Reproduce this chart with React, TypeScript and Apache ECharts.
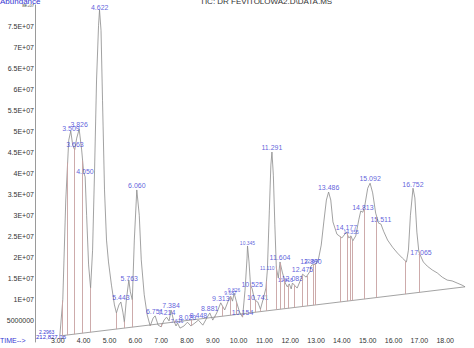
import React, { useEffect, useRef } from "react";
import * as echarts from "echarts";

// Retention time (min) and abundance (millions of counts) of the TIC trace
const traceTime = [
  3.077, 3.192, 3.308, 3.423, 3.5, 3.577, 3.654, 3.731, 3.827, 3.923, 4.0, 4.058, 4.115, 4.192, 4.269, 4.346,
  4.423, 4.5, 4.577, 4.615, 4.673, 4.731, 4.808, 4.885, 4.962, 5.077, 5.192, 5.269, 5.365, 5.442, 5.519, 5.577,
  5.654, 5.75, 5.808, 5.885, 5.962, 6.058, 6.154, 6.231, 6.346, 6.462, 6.577, 6.692, 6.769, 6.885, 7.0, 7.115,
  7.212, 7.308, 7.385, 7.481, 7.577, 7.635, 7.731, 7.885, 8.019, 8.154, 8.308, 8.442, 8.615, 8.769, 8.885, 9.0,
  9.154, 9.308, 9.462, 9.615, 9.692, 9.765, 9.826, 9.92, 10.038, 10.154, 10.25, 10.327, 10.346, 10.404, 10.462,
  10.527, 10.615, 10.742, 10.846, 10.962, 11.058, 11.115, 11.192, 11.25, 11.292, 11.346, 11.404, 11.462, 11.538,
  11.604, 11.692, 11.808, 11.885, 11.962, 12.038, 12.085, 12.269, 12.385, 12.477, 12.615, 12.769, 12.8, 12.847,
  13.0, 13.1, 13.2, 13.3, 13.4, 13.486, 13.57, 13.654, 13.808, 14.0, 14.177, 14.269, 14.354, 14.423, 14.538,
  14.654, 14.731, 14.812, 14.885, 15.0, 15.092, 15.192, 15.308, 15.423, 15.512, 15.615, 15.769, 15.962, 16.154,
  16.346, 16.5, 16.577, 16.654, 16.754, 16.827, 16.904, 16.981, 17.065, 17.154, 17.308, 17.5, 17.692, 17.885,
  18.077, 18.269, 18.462, 18.654, 18.769,
];
const traceAbund = [
  1.4, 10.0, 33.7, 47.9, 50.1, 46.7, 45.6, 48.4, 50.5, 45.6, 40.3, 39.2, 30.1, 18.3, 12.8, 21.8,
  40.8, 62.2, 75.2, 78.8, 74.0, 57.4, 36.1, 24.2, 19.0, 13.5, 8.8, 6.9, 8.8, 9.5, 7.1, 4.7,
  10.0, 14.7, 11.9, 10.0, 24.2, 36.1, 30.1, 19.5, 11.2, 6.4, 3.8, 5.7, 6.2, 4.0, 3.6, 5.2,
  5.9, 5.0, 7.6, 5.2, 3.8, 4.5, 3.3, 3.8, 4.7, 3.8, 4.5, 5.2, 4.0, 5.7, 6.9, 5.2,
  6.9, 9.3, 7.6, 10.0, 10.9, 9.7, 11.6, 9.5, 7.1, 5.9, 12.3, 19.9, 22.8, 19.0, 13.5,
  12.6, 10.0, 9.5, 7.8, 10.4, 12.8, 17.1, 31.3, 42.0, 45.1, 39.6, 27.8, 17.6, 15.2,
  19.0, 16.6, 14.0, 13.1, 13.8, 12.6, 14.0, 12.8, 14.5, 16.1, 15.4, 16.8, 18.0, 18.3,
  18.5, 19.9, 23.0, 28.5, 33.7, 35.6, 33.7, 28.5, 25.6, 24.7, 26.1, 24.7, 25.2, 24.0, 25.2,
  29.0, 31.1, 30.8, 32.3, 36.5, 37.7, 35.4, 30.6, 28.2, 28.0, 26.3, 24.2, 22.5, 21.1,
  19.9, 19.0, 21.8, 30.1, 36.5, 34.2, 26.1, 21.4, 20.2, 19.0, 18.0, 17.1, 16.4, 15.4,
  14.7, 14.5, 14.0, 13.5, 13.1,
];

// Integration baseline end points
const baselineTime = [3.15, 18.77];
const baselineAbund = [1.5, 13.1];

// Peak retention-time labels
const peakTimes = [
  3.509, 3.663, 3.826, 4.05, 4.622, 5.443, 5.763, 6.06, 6.751, 7.214, 7.384, 7.616, 8.02, 8.448, 8.881,
  9.313, 9.687, 9.826, 10.154, 10.345, 10.525, 10.741, 11.11, 11.291, 11.604, 11.815, 12.083, 12.475,
  12.8, 12.847, 13.486, 14.177, 14.355, 14.813, 15.092, 15.511, 16.752, 17.065,
];
const smallPeakLabels = [7.616, 9.687, 9.826, 10.345, 11.11, 11.815, 12.847, 14.355];

// Peak boundary drop lines
const dropTimes = [
  3.19, 3.38, 3.62, 3.96, 4.27, 5.27, 5.58, 5.88, 6.58, 7.0, 7.5, 8.15, 9.08, 9.38, 9.69, 9.92, 10.15,
  10.46, 10.65, 10.85, 11.08, 11.46, 11.6, 11.77, 11.92, 12.15, 12.46, 12.65, 12.88, 12.96, 13.92, 14.19,
  14.31, 14.42, 14.85, 15.35, 16.46, 16.98,
];

const FONT = "Liberation Sans, Arial, sans-serif";
const BLUE = "#3636d2";

function interp(xs: number[], ys: number[], t: number) {
  if (t <= xs[0]) return ys[0];
  for (let i = 1; i < xs.length; i++) {
    if (t <= xs[i]) {
      const f = (t - xs[i - 1]) / (xs[i] - xs[i - 1]);
      return ys[i - 1] + f * (ys[i] - ys[i - 1]);
    }
  }
  return ys[ys.length - 1];
}

export default function App() {
  const ref = useRef<HTMLDivElement>(null);
  useEffect(() => {
    if (!ref.current) return;
    const chart = echarts.init(ref.current, undefined, { renderer: "svg" });
    const traceAt = (t: number) => interp(traceTime, traceAbund, t);
    const baseAt = (t: number) => interp(baselineTime, baselineAbund, t);

    chart.setOption({
      animation: false,
      backgroundColor: "#ffffff",
      grid: { left: 32, right: 0, top: 5, bottom: 6, containLabel: false },
      xAxis: {
        type: "value",
        min: 2,
        max: 19,
        interval: 1,
        offset: -7,
        axisLine: { show: false },
        axisTick: { show: false },
        splitLine: { show: false },
        axisLabel: {
          margin: 2,
          fontSize: 7,
          color: "#333",
          fontFamily: FONT,
          formatter: (v: number) => (v < 2.5 || v > 18.5 ? "" : v.toFixed(2)),
        },
      },
      yAxis: {
        type: "value",
        min: 0,
        max: 80,
        interval: 5,
        offset: -3,
        axisLine: { show: true, lineStyle: { color: "#9a9a9a", width: 1 } },
        axisTick: { show: false },
        splitLine: { show: false },
        axisLabel: {
          margin: 1,
          fontSize: 7,
          color: "#333",
          fontFamily: FONT,
          formatter: (v: number) => {
            if (v === 0) return "";
            if (v === 5) return "5000000";
            if (v === 80) return "{s|8E+07}";
            return `${v / 10}E+07`;
          },
          rich: { s: { fontSize: 4, color: "#333", fontFamily: FONT } },
        },
      },
      series: [
        {
          type: "line",
          name: "baseline",
          data: baselineTime.map((t, i) => [t, baselineAbund[i]]),
          showSymbol: false,
          silent: true,
          lineStyle: { color: "#8c8c8c", width: 0.8 },
          markLine: {
            silent: true,
            symbol: ["none", "none"],
            label: { show: false },
            lineStyle: { color: "#c7a2a2", width: 0.9, type: "solid" },
            data: dropTimes.map((t) => [
              { coord: [t, traceAt(t)] },
              { coord: [t, baseAt(t)] },
            ]),
          },
          z: 1,
        },
        {
          type: "line",
          name: "TIC",
          data: traceTime.map((t, i) => [t, traceAbund[i]]),
          showSymbol: false,
          silent: true,
          lineStyle: { color: "#8a8a8a", width: 0.8 },
          z: 2,
        },
        {
          type: "scatter",
          name: "labels",
          symbolSize: 0,
          silent: true,
          data: peakTimes.map((t) => {
            const small = smallPeakLabels.includes(t);
            return {
              value: [t, traceAt(t)],
              label: { fontSize: small ? 5 : 7 },
            };
          }),
          label: {
            show: true,
            position: "top",
            distance: 1,
            color: BLUE,
            fontFamily: FONT,
            formatter: (p: any) => (p.value[0] as number).toFixed(3),
          },
          z: 3,
        },
      ],
      graphic: [
        { type: "text", left: 0, top: -3, style: { text: "Abundance", fill: BLUE, fontSize: 8, fontFamily: FONT } },
        { type: "text", left: 200, top: -3, style: { text: "TIC: DR FEVITOLOWA2.D\\DATA.MS", fill: "#333", fontSize: 8, fontFamily: FONT } },
        { type: "text", left: 0, top: 337, style: { text: "TIME-->", fill: BLUE, fontSize: 7, fontFamily: FONT } },
        { type: "text", left: 39, top: 329, style: { text: "2.2963", fill: BLUE, fontSize: 5, fontFamily: FONT } },
        { type: "text", left: 36, top: 334, style: { text: "212,827.06", fill: BLUE, fontSize: 6, fontFamily: FONT } },
      ],
    });
    return () => chart.dispose();
  }, []);
  return <div ref={ref} style={{ position: "absolute", left: 0, top: 0, width: 474, height: 348 }} />;
}
